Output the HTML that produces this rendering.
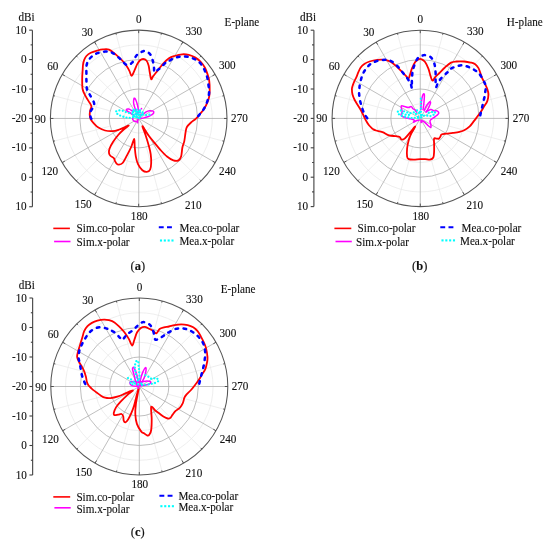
<!DOCTYPE html>
<html><head><meta charset="utf-8"><title>Radiation patterns</title><style>
*{margin:0;padding:0}
html,body{width:550px;height:545px;background:#fff;overflow:hidden}
svg{display:block}
#wrap{width:550px;height:545px}
text{font-family:"Liberation Serif","Times New Roman",serif;font-size:11.7px;fill:#111;stroke:#111;stroke-width:0.12px}
.gm{fill:none;stroke:#e6e6e6;stroke-width:0.7}
.gM{fill:none;stroke:#aeaeae;stroke-width:0.8}
.oc{fill:none;stroke:#555;stroke-width:1.05}
.tk{stroke:#505050;stroke-width:1}
.ax{stroke:#404040;stroke-width:1.1}
.red{fill:none;stroke:#ff0000;stroke-width:1.8;stroke-linejoin:round}
.mag{fill:none;stroke:#ff00ff;stroke-width:1.5;stroke-linejoin:round}
.blue{fill:none;stroke:#0000ff;stroke-width:2.5;stroke-dasharray:2.6 5.4;stroke-linecap:round}
.cy{fill:none;stroke:#00ffff;stroke-width:2.3;stroke-dasharray:0 3.3;stroke-linecap:round}
.lr{stroke:#ff0000;stroke-width:1.6}
.lm{stroke:#ff00ff;stroke-width:1.6}
.lb{stroke:#0000ff;stroke-width:2.1;stroke-dasharray:4.9 3.3}
.lc{fill:#00ffff}
.cap{font-size:12.5px}
</style></head><body>
<div id="wrap"><svg width="550" height="545" viewBox="0 0 550 545">
<g>
<circle cx="138.7" cy="118.45" r="14.72" class="gm"/>
<circle cx="138.7" cy="118.45" r="44.15" class="gm"/>
<circle cx="138.7" cy="118.45" r="73.58" class="gm"/>
<line x1="146.32" y1="90.02" x2="161.55" y2="33.16" class="gm"/>
<line x1="159.51" y1="97.64" x2="201.14" y2="56.01" class="gm"/>
<line x1="167.13" y1="110.83" x2="223.99" y2="95.6" class="gm"/>
<line x1="167.13" y1="126.07" x2="223.99" y2="141.3" class="gm"/>
<line x1="159.51" y1="139.26" x2="201.14" y2="180.89" class="gm"/>
<line x1="146.32" y1="146.88" x2="161.55" y2="203.74" class="gm"/>
<line x1="131.08" y1="146.88" x2="115.85" y2="203.74" class="gm"/>
<line x1="117.89" y1="139.26" x2="76.26" y2="180.89" class="gm"/>
<line x1="110.27" y1="126.07" x2="53.41" y2="141.3" class="gm"/>
<line x1="110.27" y1="110.83" x2="53.41" y2="95.6" class="gm"/>
<line x1="117.89" y1="97.64" x2="76.26" y2="56.01" class="gm"/>
<line x1="131.08" y1="90.02" x2="115.85" y2="33.16" class="gm"/>
<circle cx="138.7" cy="118.45" r="29.43" class="gM"/>
<circle cx="138.7" cy="118.45" r="58.87" class="gM"/>
<line x1="138.7" y1="118.45" x2="138.7" y2="30.15" class="gM"/>
<line x1="138.7" y1="118.45" x2="182.85" y2="41.98" class="gM"/>
<line x1="138.7" y1="118.45" x2="215.17" y2="74.3" class="gM"/>
<line x1="138.7" y1="118.45" x2="227" y2="118.45" class="gM"/>
<line x1="138.7" y1="118.45" x2="215.17" y2="162.6" class="gM"/>
<line x1="138.7" y1="118.45" x2="182.85" y2="194.92" class="gM"/>
<line x1="138.7" y1="118.45" x2="138.7" y2="206.75" class="gM"/>
<line x1="138.7" y1="118.45" x2="94.55" y2="194.92" class="gM"/>
<line x1="138.7" y1="118.45" x2="62.23" y2="162.6" class="gM"/>
<line x1="138.7" y1="118.45" x2="50.4" y2="118.45" class="gM"/>
<line x1="138.7" y1="118.45" x2="62.23" y2="74.3" class="gM"/>
<line x1="138.7" y1="118.45" x2="94.55" y2="41.98" class="gM"/>
<circle cx="138.7" cy="118.45" r="88.3" class="oc"/>
<line x1="138.7" y1="30.15" x2="138.7" y2="33.15" class="tk"/>
<line x1="161.55" y1="33.16" x2="161.14" y2="34.7" class="tk"/>
<line x1="182.85" y1="41.98" x2="181.35" y2="44.58" class="tk"/>
<line x1="201.14" y1="56.01" x2="200.01" y2="57.14" class="tk"/>
<line x1="215.17" y1="74.3" x2="212.57" y2="75.8" class="tk"/>
<line x1="223.99" y1="95.6" x2="222.45" y2="96.01" class="tk"/>
<line x1="227" y1="118.45" x2="224" y2="118.45" class="tk"/>
<line x1="223.99" y1="141.3" x2="222.45" y2="140.89" class="tk"/>
<line x1="215.17" y1="162.6" x2="212.57" y2="161.1" class="tk"/>
<line x1="201.14" y1="180.89" x2="200.01" y2="179.76" class="tk"/>
<line x1="182.85" y1="194.92" x2="181.35" y2="192.32" class="tk"/>
<line x1="161.55" y1="203.74" x2="161.14" y2="202.2" class="tk"/>
<line x1="138.7" y1="206.75" x2="138.7" y2="203.75" class="tk"/>
<line x1="115.85" y1="203.74" x2="116.26" y2="202.2" class="tk"/>
<line x1="94.55" y1="194.92" x2="96.05" y2="192.32" class="tk"/>
<line x1="76.26" y1="180.89" x2="77.39" y2="179.76" class="tk"/>
<line x1="62.23" y1="162.6" x2="64.83" y2="161.1" class="tk"/>
<line x1="53.41" y1="141.3" x2="54.95" y2="140.89" class="tk"/>
<line x1="50.4" y1="118.45" x2="53.4" y2="118.45" class="tk"/>
<line x1="53.41" y1="95.6" x2="54.95" y2="96.01" class="tk"/>
<line x1="62.23" y1="74.3" x2="64.83" y2="75.8" class="tk"/>
<line x1="76.26" y1="56.01" x2="77.39" y2="57.14" class="tk"/>
<line x1="94.55" y1="41.98" x2="96.05" y2="44.58" class="tk"/>
<line x1="115.85" y1="33.16" x2="116.26" y2="34.7" class="tk"/>
<line x1="32.4" y1="30.15" x2="32.4" y2="206.75" class="ax"/>
<line x1="29.2" y1="30.15" x2="32.4" y2="30.15" class="ax"/>
<text x="26.6" y="33.75" text-anchor="end" textLength="11.15" lengthAdjust="spacingAndGlyphs">10</text>
<line x1="30.6" y1="44.87" x2="32.4" y2="44.87" class="ax"/>
<line x1="29.2" y1="59.58" x2="32.4" y2="59.58" class="ax"/>
<text x="26.6" y="63.18" text-anchor="end" textLength="5.58" lengthAdjust="spacingAndGlyphs">0</text>
<line x1="30.6" y1="74.3" x2="32.4" y2="74.3" class="ax"/>
<line x1="29.2" y1="89.02" x2="32.4" y2="89.02" class="ax"/>
<text x="26.6" y="92.62" text-anchor="end" textLength="14.86" lengthAdjust="spacingAndGlyphs">-10</text>
<line x1="30.6" y1="103.73" x2="32.4" y2="103.73" class="ax"/>
<line x1="29.2" y1="118.45" x2="32.4" y2="118.45" class="ax"/>
<text x="26.6" y="122.05" text-anchor="end" textLength="14.86" lengthAdjust="spacingAndGlyphs">-20</text>
<line x1="30.6" y1="133.17" x2="32.4" y2="133.17" class="ax"/>
<line x1="29.2" y1="147.88" x2="32.4" y2="147.88" class="ax"/>
<text x="26.6" y="151.48" text-anchor="end" textLength="14.86" lengthAdjust="spacingAndGlyphs">-10</text>
<line x1="30.6" y1="162.6" x2="32.4" y2="162.6" class="ax"/>
<line x1="29.2" y1="177.32" x2="32.4" y2="177.32" class="ax"/>
<text x="26.6" y="180.92" text-anchor="end" textLength="5.58" lengthAdjust="spacingAndGlyphs">0</text>
<line x1="30.6" y1="192.03" x2="32.4" y2="192.03" class="ax"/>
<line x1="29.2" y1="206.75" x2="32.4" y2="206.75" class="ax"/>
<text x="26.6" y="210.35" text-anchor="end" textLength="11.15" lengthAdjust="spacingAndGlyphs">10</text>
<text x="26.5" y="21.35" text-anchor="middle" textLength="16.11" lengthAdjust="spacingAndGlyphs">dBi</text>
<text x="138.85" y="23.2" text-anchor="middle" textLength="5.58" lengthAdjust="spacingAndGlyphs">0</text>
<text x="92.8" y="35.7" text-anchor="end" textLength="11.15" lengthAdjust="spacingAndGlyphs">30</text>
<text x="58.3" y="69.6" text-anchor="end" textLength="11.15" lengthAdjust="spacingAndGlyphs">60</text>
<text x="45.9" y="122.5" text-anchor="end" textLength="11.15" lengthAdjust="spacingAndGlyphs">90</text>
<text x="58.2" y="174.8" text-anchor="end" textLength="16.73" lengthAdjust="spacingAndGlyphs">120</text>
<text x="91.6" y="208.2" text-anchor="end" textLength="16.73" lengthAdjust="spacingAndGlyphs">150</text>
<text x="139.2" y="220.4" text-anchor="middle" textLength="16.73" lengthAdjust="spacingAndGlyphs">180</text>
<text x="184.9" y="208.7" text-anchor="start" textLength="16.73" lengthAdjust="spacingAndGlyphs">210</text>
<text x="219.1" y="174.9" text-anchor="start" textLength="16.73" lengthAdjust="spacingAndGlyphs">240</text>
<text x="231.1" y="122.2" text-anchor="start" textLength="16.73" lengthAdjust="spacingAndGlyphs">270</text>
<text x="218.9" y="69.2" text-anchor="start" textLength="16.73" lengthAdjust="spacingAndGlyphs">300</text>
<text x="185.4" y="35.3" text-anchor="start" textLength="16.73" lengthAdjust="spacingAndGlyphs">330</text>
<path d="M90.3,118.7 C90.2,117.97 89.7,115.77 89.7,114.3 C89.7,112.83 90.02,111.27 90.3,109.9 C90.58,108.53 91.68,107.57 91.4,106.1 C91.12,104.63 89.62,102.85 88.6,101.1 C87.58,99.35 86.3,97.62 85.3,95.6 C84.3,93.58 83.12,91.85 82.6,89 C82.08,86.15 82.2,81.53 82.2,78.5 C82.2,75.47 82.45,73.18 82.6,70.8 C82.75,68.42 82.83,66.03 83.1,64.2 C83.37,62.37 83.65,61.17 84.2,59.8 C84.75,58.43 85.3,57.18 86.4,56 C87.5,54.82 88.97,53.62 90.8,52.7 C92.63,51.78 95.38,51.05 97.4,50.5 C99.42,49.95 100.97,49.55 102.9,49.4 C104.83,49.25 106.88,48.77 109,49.6 C111.12,50.43 113.4,52.58 115.6,54.4 C117.8,56.22 120.37,58.57 122.2,60.5 C124.03,62.43 125.4,64.27 126.6,66 C127.8,67.73 128.57,69.25 129.4,70.9 C130.23,72.55 130.78,75.9 131.6,75.9 C132.42,75.9 133.38,72.83 134.3,70.9 C135.22,68.97 136.18,66.03 137.1,64.3 C138.02,62.57 138.8,61.38 139.8,60.5 C140.8,59.62 142,59 143.1,59 C144.2,59 145.48,59.43 146.4,60.5 C147.32,61.57 148.05,63.48 148.6,65.4 C149.15,67.32 149.27,69.7 149.7,72 C150.13,74.3 150.65,78.47 151.2,79.2 C151.75,79.93 151.97,77.78 153,76.4 C154.03,75.02 155.73,73 157.4,70.9 C159.07,68.8 161.07,65.9 163,63.8 C164.93,61.7 167.08,59.6 169,58.3 C170.92,57 172.3,56.67 174.5,56 C176.7,55.33 179.82,54.48 182.2,54.3 C184.58,54.12 186.6,54.35 188.8,54.9 C191,55.45 193.38,56.42 195.4,57.6 C197.42,58.78 199.33,60.35 200.9,62 C202.47,63.65 203.7,65.48 204.8,67.5 C205.9,69.52 206.77,71.9 207.5,74.1 C208.23,76.3 208.83,78.05 209.2,80.7 C209.57,83.35 209.7,87.35 209.7,90 C209.7,92.65 209.57,94.58 209.2,96.6 C208.83,98.62 208.33,100.08 207.5,102.1 C206.67,104.12 205.48,106.68 204.2,108.7 C202.92,110.72 201.17,112.55 199.8,114.2 C198.43,115.85 197.47,117.22 196,118.6 C194.53,119.98 192.52,121.1 191,122.5 C189.48,123.9 187.8,125.4 186.9,127 C186,128.6 186.03,129.75 185.6,132.1 C185.17,134.45 184.83,138.53 184.3,141.1 C183.77,143.67 182.93,144.93 182.4,147.5 C181.87,150.07 181.75,154.35 181.1,156.5 C180.45,158.65 179.78,159.75 178.5,160.4 C177.22,161.05 175.32,161.05 173.4,160.4 C171.48,159.75 169.13,158.22 167,156.5 C164.87,154.78 162.75,152.45 160.6,150.1 C158.45,147.75 156.03,144.75 154.1,142.4 C152.17,140.05 150.4,137.88 149,136 C147.6,134.12 146.8,132.73 145.7,131.1 C144.6,129.47 142.4,125.47 142.4,126.2 C142.4,126.93 144.6,132.12 145.7,135.5 C146.8,138.88 148.17,143.38 149,146.5 C149.83,149.62 150.33,151.45 150.7,154.2 C151.07,156.95 151.3,160.43 151.2,163 C151.1,165.57 150.83,168.13 150.1,169.6 C149.37,171.07 148.08,171.7 146.8,171.8 C145.52,171.9 143.87,171.48 142.4,170.2 C140.93,168.92 139.1,166.4 138,164.1 C136.9,161.8 136.35,159.33 135.8,156.4 C135.25,153.47 134.97,149.43 134.7,146.5 C134.43,143.57 134.75,138.8 134.2,138.8 C133.65,138.8 132.6,143.75 131.4,146.5 C130.2,149.25 128.47,152.55 127,155.3 C125.53,158.05 123.97,161.43 122.6,163 C121.23,164.57 119.8,164.6 118.8,164.7 C117.8,164.8 117.25,164.25 116.6,163.6 C115.95,162.95 115.37,161.72 114.9,160.8 C114.43,159.88 114.52,158.9 113.8,158.1 C113.08,157.3 111.4,156.83 110.6,156 C109.8,155.17 109.18,154.32 109,153.1 C108.82,151.88 108.83,150.53 109.5,148.7 C110.17,146.87 111.55,144.38 113,142.1 C114.45,139.82 116.42,137.1 118.2,135 C119.98,132.9 121.95,131.07 123.7,129.5 C125.45,127.93 128.52,125.97 128.7,125.6 C128.88,125.23 126.37,126.65 124.8,127.3 C123.23,127.95 121.32,128.87 119.3,129.5 C117.28,130.13 115.08,130.93 112.7,131.1 C110.32,131.27 107.38,131.08 105,130.5 C102.62,129.92 100.23,128.75 98.4,127.6 C96.57,126.45 95.03,124.62 94,123.6 C92.97,122.58 92.82,122.32 92.2,121.5 C91.58,120.68 90.62,119.17 90.3,118.7" class="red"/>
<path d="M135.9,111.1 C135.72,110.52 135.18,108.95 134.8,107.6 C134.42,106.25 133.75,104.45 133.6,103 C133.45,101.55 133.73,99.7 133.9,98.9 C134.07,98.1 134.32,98.1 134.6,98.2 C134.88,98.3 135.18,98.6 135.6,99.5 C136.02,100.4 136.7,102.25 137.1,103.6 C137.5,104.95 137.8,106.35 138,107.6 C138.2,108.85 138.38,110.12 138.3,111.1 C138.22,112.08 137.63,113.1 137.5,113.5" class="mag"/>
<path d="M133.9,112.3 C133.52,112 132.47,111.03 131.6,110.5 C130.73,109.97 129.58,109.23 128.7,109.1 C127.82,108.97 126.5,109.37 126.3,109.7 C126.1,110.03 126.82,110.57 127.5,111.1 C128.18,111.63 129.53,112.32 130.4,112.9 C131.27,113.48 132.02,114.28 132.7,114.6 C133.38,114.92 134.2,114.77 134.5,114.8" class="mag"/>
<path d="M139.5,115.2 C140.12,115.03 142.1,114.77 143.2,114.2 C144.3,113.63 145.03,112.38 146.1,111.8 C147.17,111.22 148.43,110.8 149.6,110.7 C150.77,110.6 152.42,110.82 153.1,111.2 C153.78,111.58 153.9,112.42 153.7,113 C153.5,113.58 152.78,114.12 151.9,114.7 C151.02,115.28 149.57,116.02 148.4,116.5 C147.23,116.98 145.97,117.32 144.9,117.6 C143.83,117.88 142.9,118.13 142,118.2 C141.1,118.27 139.92,118.03 139.5,118" class="mag"/>
<path d="M134.5,116 C134.2,116.35 132.9,117.37 132.7,118.1 C132.5,118.83 132.9,119.82 133.3,120.4 C133.7,120.98 134.42,121.5 135.1,121.6 C135.78,121.7 136.92,121.38 137.4,121 C137.88,120.62 137.72,119.78 138,119.3 C138.28,118.82 138.92,118.3 139.1,118.1" class="mag"/>
<path d="M137.4,120.5 L137.7,123.3" class="mag"/>
<path d="M141.3,107.8 L141.6,109.5" class="mag"/>
<path d="M136,114 C136.42,113.72 137.67,112.47 138.5,112.3 C139.33,112.13 140.58,112.88 141,113" class="mag"/>
<path d="M91.4,118.7 C91.27,118.43 90.78,118.2 90.6,117.1 C90.42,116 89.98,113.57 90.3,112.1 C90.62,110.63 91.87,109.77 92.5,108.3 C93.13,106.83 94.57,105.6 94.1,103.3 C93.63,101 90.88,96.78 89.7,94.5 C88.52,92.22 87.55,92.08 87,89.6 C86.45,87.12 86.5,82.37 86.4,79.6 C86.3,76.83 86.4,75.2 86.4,73 C86.4,70.8 86.12,68.42 86.4,66.4 C86.68,64.38 87.18,62.55 88.1,60.9 C89.02,59.25 90.35,57.78 91.9,56.5 C93.45,55.22 95.2,54.02 97.4,53.2 C99.6,52.38 102.62,51.67 105.1,51.6 C107.58,51.53 109.82,51.6 112.3,52.8 C114.78,54 117.62,56.78 120,58.8 C122.38,60.82 124.58,64.25 126.6,64.9 C128.62,65.55 130.45,64.27 132.1,62.7 C133.75,61.13 134.85,57.33 136.5,55.5 C138.15,53.67 140.53,52.43 142,51.7 C143.47,50.97 143.92,50.65 145.3,51.1 C146.68,51.55 149.02,52.65 150.3,54.4 C151.58,56.15 152.37,59.22 153,61.6 C153.63,63.98 153.92,66.97 154.1,68.7 C154.28,70.43 153.45,71.82 154.1,72 C154.75,72.18 156.72,70.72 158,69.8 C159.28,68.88 160.43,67.78 161.8,66.5 C163.17,65.22 165,63.03 166.2,62.1 C167.4,61.17 167.43,61.65 169,60.9 C170.57,60.15 173.22,58.33 175.6,57.6 C177.98,56.87 180.73,56.5 183.3,56.5 C185.87,56.5 188.62,56.87 191,57.6 C193.38,58.33 195.77,59.62 197.6,60.9 C199.43,62.18 200.72,63.47 202,65.3 C203.28,67.13 204.38,69.7 205.3,71.9 C206.22,74.1 206.95,76.12 207.5,78.5 C208.05,80.88 208.32,84.2 208.6,86.2 C208.88,88.2 209.2,88.77 209.2,90.5 C209.2,92.23 208.97,94.67 208.6,96.6 C208.23,98.53 207.77,100.08 207,102.1 C206.23,104.12 205.2,106.68 204,108.7 C202.8,110.72 201.13,112.55 199.8,114.2 C198.47,115.85 196.63,117.87 196,118.6" class="blue"/>
<path d="M133,117.2 C132.33,117.32 130.25,117.88 129,117.9 C127.75,117.92 126.67,117.57 125.5,117.3 C124.33,117.03 123.25,116.77 122,116.3 C120.75,115.83 119.02,115.25 118,114.5 C116.98,113.75 115.82,112.47 115.9,111.8 C115.98,111.13 117.35,110.67 118.5,110.5 C119.65,110.33 121.55,110.52 122.8,110.8 C124.05,111.08 124.88,111.8 126,112.2 C127.12,112.6 128.42,112.98 129.5,113.2 C130.58,113.42 132,113.45 132.5,113.5" class="cy"/>
<path d="M133.5,110 C133.92,109.92 135.08,109.5 136,109.5 C136.92,109.5 138.08,109.75 139,110 C139.92,110.25 140.83,110.5 141.5,111 C142.17,111.5 142.75,112.67 143,113" class="cy"/>
<path d="M133,112 C133.33,112.33 134.25,113.5 135,114 C135.75,114.5 136.67,115 137.5,115 C138.33,115 139.17,113.92 140,114 C140.83,114.08 142.08,115.25 142.5,115.5" class="cy"/>
<path d="M134,116.5 C134.42,116.67 135.67,117.5 136.5,117.5 C137.33,117.5 138.25,116.5 139,116.5 C139.75,116.5 140.67,117.33 141,117.5" class="cy"/>
<path d="M143,114.3 C143.52,114.45 145,115.15 146.1,115.2 C147.2,115.25 148.75,114.88 149.6,114.6 C150.45,114.32 150.93,113.68 151.2,113.5" class="cy"/>
<path d="M136,111.5 C136.08,112 136.58,113.5 136.5,114.5 C136.42,115.5 135.67,117 135.5,117.5" class="cy"/>
<path d="M139,111.5 L139,118.5" class="cy"/>
<path d="M133.5,115.5 C133.75,115.75 134.42,116.83 135,117 C135.58,117.17 136.5,117.17 137,116.5 C137.5,115.83 137.42,113.67 138,113 C138.58,112.33 139.83,111.92 140.5,112.5 C141.17,113.08 141.75,115.83 142,116.5" class="cy"/>
<path d="M134,110.5 C134.58,110.75 136.5,112 137.5,112 C138.5,112 139.58,110.75 140,110.5" class="cy"/>
</g>
<g>
<circle cx="420.25" cy="118.4" r="14.7" class="gm"/>
<circle cx="420.25" cy="118.4" r="44.1" class="gm"/>
<circle cx="420.25" cy="118.4" r="73.5" class="gm"/>
<line x1="427.86" y1="90" x2="443.08" y2="33.21" class="gm"/>
<line x1="441.04" y1="97.61" x2="482.62" y2="56.03" class="gm"/>
<line x1="448.65" y1="110.79" x2="505.44" y2="95.57" class="gm"/>
<line x1="448.65" y1="126.01" x2="505.44" y2="141.23" class="gm"/>
<line x1="441.04" y1="139.19" x2="482.62" y2="180.77" class="gm"/>
<line x1="427.86" y1="146.8" x2="443.08" y2="203.59" class="gm"/>
<line x1="412.64" y1="146.8" x2="397.42" y2="203.59" class="gm"/>
<line x1="399.46" y1="139.19" x2="357.88" y2="180.77" class="gm"/>
<line x1="391.85" y1="126.01" x2="335.06" y2="141.23" class="gm"/>
<line x1="391.85" y1="110.79" x2="335.06" y2="95.57" class="gm"/>
<line x1="399.46" y1="97.61" x2="357.88" y2="56.03" class="gm"/>
<line x1="412.64" y1="90" x2="397.42" y2="33.21" class="gm"/>
<circle cx="420.25" cy="118.4" r="29.4" class="gM"/>
<circle cx="420.25" cy="118.4" r="58.8" class="gM"/>
<line x1="420.25" y1="118.4" x2="420.25" y2="30.2" class="gM"/>
<line x1="420.25" y1="118.4" x2="464.35" y2="42.02" class="gM"/>
<line x1="420.25" y1="118.4" x2="496.63" y2="74.3" class="gM"/>
<line x1="420.25" y1="118.4" x2="508.45" y2="118.4" class="gM"/>
<line x1="420.25" y1="118.4" x2="496.63" y2="162.5" class="gM"/>
<line x1="420.25" y1="118.4" x2="464.35" y2="194.78" class="gM"/>
<line x1="420.25" y1="118.4" x2="420.25" y2="206.6" class="gM"/>
<line x1="420.25" y1="118.4" x2="376.15" y2="194.78" class="gM"/>
<line x1="420.25" y1="118.4" x2="343.87" y2="162.5" class="gM"/>
<line x1="420.25" y1="118.4" x2="332.05" y2="118.4" class="gM"/>
<line x1="420.25" y1="118.4" x2="343.87" y2="74.3" class="gM"/>
<line x1="420.25" y1="118.4" x2="376.15" y2="42.02" class="gM"/>
<circle cx="420.25" cy="118.4" r="88.2" class="oc"/>
<line x1="420.25" y1="30.2" x2="420.25" y2="33.2" class="tk"/>
<line x1="443.08" y1="33.21" x2="442.66" y2="34.75" class="tk"/>
<line x1="464.35" y1="42.02" x2="462.85" y2="44.61" class="tk"/>
<line x1="482.62" y1="56.03" x2="481.49" y2="57.16" class="tk"/>
<line x1="496.63" y1="74.3" x2="494.04" y2="75.8" class="tk"/>
<line x1="505.44" y1="95.57" x2="503.9" y2="95.99" class="tk"/>
<line x1="508.45" y1="118.4" x2="505.45" y2="118.4" class="tk"/>
<line x1="505.44" y1="141.23" x2="503.9" y2="140.81" class="tk"/>
<line x1="496.63" y1="162.5" x2="494.04" y2="161" class="tk"/>
<line x1="482.62" y1="180.77" x2="481.49" y2="179.64" class="tk"/>
<line x1="464.35" y1="194.78" x2="462.85" y2="192.19" class="tk"/>
<line x1="443.08" y1="203.59" x2="442.66" y2="202.05" class="tk"/>
<line x1="420.25" y1="206.6" x2="420.25" y2="203.6" class="tk"/>
<line x1="397.42" y1="203.59" x2="397.84" y2="202.05" class="tk"/>
<line x1="376.15" y1="194.78" x2="377.65" y2="192.19" class="tk"/>
<line x1="357.88" y1="180.77" x2="359.01" y2="179.64" class="tk"/>
<line x1="343.87" y1="162.5" x2="346.46" y2="161" class="tk"/>
<line x1="335.06" y1="141.23" x2="336.6" y2="140.81" class="tk"/>
<line x1="332.05" y1="118.4" x2="335.05" y2="118.4" class="tk"/>
<line x1="335.06" y1="95.57" x2="336.6" y2="95.99" class="tk"/>
<line x1="343.87" y1="74.3" x2="346.46" y2="75.8" class="tk"/>
<line x1="357.88" y1="56.03" x2="359.01" y2="57.16" class="tk"/>
<line x1="376.15" y1="42.02" x2="377.65" y2="44.61" class="tk"/>
<line x1="397.42" y1="33.21" x2="397.84" y2="34.75" class="tk"/>
<line x1="313.9" y1="30.2" x2="313.9" y2="206.6" class="ax"/>
<line x1="310.7" y1="30.2" x2="313.9" y2="30.2" class="ax"/>
<text x="308.1" y="33.8" text-anchor="end" textLength="11.15" lengthAdjust="spacingAndGlyphs">10</text>
<line x1="312.1" y1="44.9" x2="313.9" y2="44.9" class="ax"/>
<line x1="310.7" y1="59.6" x2="313.9" y2="59.6" class="ax"/>
<text x="308.1" y="63.2" text-anchor="end" textLength="5.58" lengthAdjust="spacingAndGlyphs">0</text>
<line x1="312.1" y1="74.3" x2="313.9" y2="74.3" class="ax"/>
<line x1="310.7" y1="89" x2="313.9" y2="89" class="ax"/>
<text x="308.1" y="92.6" text-anchor="end" textLength="14.86" lengthAdjust="spacingAndGlyphs">-10</text>
<line x1="312.1" y1="103.7" x2="313.9" y2="103.7" class="ax"/>
<line x1="310.7" y1="118.4" x2="313.9" y2="118.4" class="ax"/>
<text x="308.1" y="122" text-anchor="end" textLength="14.86" lengthAdjust="spacingAndGlyphs">-20</text>
<line x1="312.1" y1="133.1" x2="313.9" y2="133.1" class="ax"/>
<line x1="310.7" y1="147.8" x2="313.9" y2="147.8" class="ax"/>
<text x="308.1" y="151.4" text-anchor="end" textLength="14.86" lengthAdjust="spacingAndGlyphs">-10</text>
<line x1="312.1" y1="162.5" x2="313.9" y2="162.5" class="ax"/>
<line x1="310.7" y1="177.2" x2="313.9" y2="177.2" class="ax"/>
<text x="308.1" y="180.8" text-anchor="end" textLength="5.58" lengthAdjust="spacingAndGlyphs">0</text>
<line x1="312.1" y1="191.9" x2="313.9" y2="191.9" class="ax"/>
<line x1="310.7" y1="206.6" x2="313.9" y2="206.6" class="ax"/>
<text x="308.1" y="210.2" text-anchor="end" textLength="11.15" lengthAdjust="spacingAndGlyphs">10</text>
<text x="308" y="21.4" text-anchor="middle" textLength="16.11" lengthAdjust="spacingAndGlyphs">dBi</text>
<text x="420.4" y="23.15" text-anchor="middle" textLength="5.58" lengthAdjust="spacingAndGlyphs">0</text>
<text x="374.35" y="35.65" text-anchor="end" textLength="11.15" lengthAdjust="spacingAndGlyphs">30</text>
<text x="339.85" y="69.55" text-anchor="end" textLength="11.15" lengthAdjust="spacingAndGlyphs">60</text>
<text x="327.45" y="122.45" text-anchor="end" textLength="11.15" lengthAdjust="spacingAndGlyphs">90</text>
<text x="339.75" y="174.75" text-anchor="end" textLength="16.73" lengthAdjust="spacingAndGlyphs">120</text>
<text x="373.15" y="208.15" text-anchor="end" textLength="16.73" lengthAdjust="spacingAndGlyphs">150</text>
<text x="420.75" y="220.35" text-anchor="middle" textLength="16.73" lengthAdjust="spacingAndGlyphs">180</text>
<text x="466.45" y="208.65" text-anchor="start" textLength="16.73" lengthAdjust="spacingAndGlyphs">210</text>
<text x="500.65" y="174.85" text-anchor="start" textLength="16.73" lengthAdjust="spacingAndGlyphs">240</text>
<text x="512.65" y="122.15" text-anchor="start" textLength="16.73" lengthAdjust="spacingAndGlyphs">270</text>
<text x="500.45" y="69.15" text-anchor="start" textLength="16.73" lengthAdjust="spacingAndGlyphs">300</text>
<text x="466.95" y="35.25" text-anchor="start" textLength="16.73" lengthAdjust="spacingAndGlyphs">330</text>
<path d="M372.8,129.2 C372.17,128.55 370.1,126.68 369,125.3 C367.9,123.92 367.03,122.37 366.2,120.9 C365.37,119.43 364.82,118.15 364,116.5 C363.18,114.85 362.3,112.83 361.3,111 C360.3,109.17 359.1,107.33 358,105.5 C356.9,103.67 355.62,101.83 354.7,100 C353.78,98.17 352.97,96.33 352.5,94.5 C352.03,92.67 351.9,90.38 351.9,89 C351.9,87.62 352.13,87.4 352.5,86.2 C352.87,85 353.47,83.27 354.1,81.8 C354.73,80.33 355.57,79.05 356.3,77.4 C357.03,75.75 357.77,73.55 358.5,71.9 C359.23,70.25 359.78,68.78 360.7,67.5 C361.62,66.22 362.53,65.2 364,64.2 C365.47,63.2 367.3,62.23 369.5,61.5 C371.7,60.77 374.63,60.08 377.2,59.8 C379.77,59.52 382.6,59.43 384.9,59.8 C387.2,60.17 389.07,60.9 391,62 C392.93,63.1 394.67,64.75 396.5,66.4 C398.33,68.05 400.35,70.25 402,71.9 C403.65,73.55 405.3,75.2 406.4,76.3 C407.5,77.4 407.68,79.78 408.6,78.5 C409.52,77.22 410.8,71.35 411.9,68.6 C413,65.85 414.1,63.55 415.2,62 C416.3,60.45 417.4,59.75 418.5,59.3 C419.6,58.85 420.7,58.85 421.8,59.3 C422.9,59.75 424,60.45 425.1,62 C426.2,63.55 427.48,66.22 428.4,68.6 C429.32,70.98 429.9,74.28 430.6,76.3 C431.3,78.32 431.87,80.52 432.6,80.7 C433.33,80.88 433.87,78.68 435,77.4 C436.13,76.12 437.75,74.65 439.4,73 C441.05,71.35 442.97,69.23 444.9,67.5 C446.83,65.77 449.07,63.6 451,62.6 C452.93,61.6 454.3,61.68 456.5,61.5 C458.7,61.32 461.82,61.32 464.2,61.5 C466.58,61.68 468.97,62.15 470.8,62.6 C472.63,63.05 473.92,63.28 475.2,64.2 C476.48,65.12 477.67,66.72 478.5,68.1 C479.33,69.48 479.65,70.95 480.2,72.5 C480.75,74.05 481.17,75.85 481.8,77.4 C482.43,78.95 483.08,79.87 484,81.8 C484.92,83.73 486.57,86.88 487.3,89 C488.03,91.12 488.4,92.48 488.4,94.5 C488.4,96.52 488.03,99.08 487.3,101.1 C486.57,103.12 485.1,104.77 484,106.6 C482.9,108.43 481.8,110.45 480.7,112.1 C479.6,113.75 478.5,115.03 477.4,116.5 C476.3,117.97 475.38,119.25 474.1,120.9 C472.82,122.55 471.35,124.83 469.7,126.4 C468.05,127.97 465.9,129.4 464.2,130.3 C462.5,131.2 461.38,131.37 459.5,131.8 C457.62,132.23 455.08,132.58 452.9,132.9 C450.72,133.22 448.3,133.43 446.4,133.7 C444.5,133.97 442.47,134.08 441.5,134.5 C440.53,134.92 441.02,135.52 440.6,136.2 C440.18,136.88 439.68,138.2 439,138.6 C438.32,139 437.32,138.6 436.5,138.6 C435.68,138.6 434.5,137.78 434.1,138.6 C433.7,139.42 434.1,141.32 434.1,143.5 C434.1,145.68 434.23,149.37 434.1,151.7 C433.97,154.03 433.98,156.18 433.3,157.5 C432.62,158.82 431.37,159.33 430,159.6 C428.63,159.87 426.73,159.18 425.1,159.1 C423.47,159.02 422.12,159.02 420.2,159.1 C418.28,159.18 415.52,159.6 413.6,159.6 C411.68,159.6 409.78,159.6 408.7,159.1 C407.62,158.6 407.37,158.37 407.1,156.6 C406.83,154.83 406.83,151.22 407.1,148.5 C407.37,145.78 408.02,142.77 408.7,140.3 C409.38,137.83 410.1,136.02 411.2,133.7 C412.3,131.38 415.43,126.67 415.3,126.4 C415.17,126.13 412.18,130.07 410.4,132.1 C408.62,134.13 406.1,137.37 404.6,138.6 C403.1,139.83 402.22,139.77 401.4,139.5 C400.58,139.23 400.67,137.55 399.7,137 C398.73,136.45 397.37,136.47 395.6,136.2 C393.83,135.93 391.28,136.08 389.1,135.4 C386.92,134.72 384.68,132.92 382.5,132.1 C380.32,131.28 377.62,130.98 376,130.5 C374.38,130.02 373.33,129.42 372.8,129.2" class="red"/>
<path d="M420.9,110.1 C420.97,108.93 421.08,105.28 421.3,103.1 C421.52,100.92 421.83,98.53 422.2,97 C422.57,95.47 423.13,94.2 423.5,93.9 C423.87,93.6 424.33,93.67 424.4,95.2 C424.47,96.73 424.13,100.62 423.9,103.1 C423.67,105.58 423.15,108.93 423,110.1" class="mag"/>
<path d="M423.9,111 C424.33,110.12 425.55,107.23 426.5,105.7 C427.45,104.17 428.93,102.23 429.6,101.8 C430.27,101.37 430.72,102.02 430.5,103.1 C430.28,104.18 429.1,106.7 428.3,108.3 C427.5,109.9 426.13,111.97 425.7,112.7" class="mag"/>
<path d="M416.9,112.7 C416.62,112.27 415.85,110.75 415.2,110.1 C414.55,109.45 413.65,109.38 413,108.8 C412.35,108.22 412.1,106.82 411.3,106.6 C410.5,106.38 409.3,107.5 408.2,107.5 C407.1,107.5 405.87,106.83 404.7,106.6 C403.53,106.37 401.63,105.3 401.2,106.1 C400.77,106.9 402.1,109.87 402.1,111.4 C402.1,112.93 400.62,114.22 401.2,115.3 C401.78,116.38 404,117.32 405.6,117.9 C407.2,118.48 409.35,118.43 410.8,118.8 C412.25,119.17 413.85,119.52 414.3,120.1 C414.75,120.68 413.07,122.23 413.5,122.3 C413.93,122.37 415.88,120.87 416.9,120.5 C417.92,120.13 419.15,120.17 419.6,120.1" class="mag"/>
<path d="M425.5,112 C425.82,111.83 426.5,111.4 427.4,111 C428.3,110.6 429.73,109.62 430.9,109.6 C432.07,109.58 433.38,110.68 434.4,110.9 C435.42,111.12 436.27,110.53 437,110.9 C437.73,111.27 438.8,112.37 438.8,113.1 C438.8,113.83 437.88,114.5 437,115.3 C436.12,116.1 434.52,117.17 433.5,117.9 C432.48,118.63 431.48,119.12 430.9,119.7 C430.32,120.28 430,120.53 430,121.4 C430,122.27 430.75,123.88 430.9,124.9 C431.05,125.92 431.33,127.35 430.9,127.5 C430.47,127.65 429.32,126.67 428.3,125.8 C427.28,124.93 425.97,123.18 424.8,122.3 C423.63,121.42 421.88,120.8 421.3,120.5" class="mag"/>
<path d="M420.9,119.7 L421.3,123.2" class="mag"/>
<path d="M367.3,118.2 C366.85,117.55 365.42,115.87 364.6,114.3 C363.78,112.73 363.13,111 362.4,108.8 C361.67,106.6 360.75,103.67 360.2,101.1 C359.65,98.53 359.23,95.42 359.1,93.4 C358.97,91.38 359.32,90.2 359.4,89 C359.48,87.8 359.38,87.58 359.6,86.2 C359.82,84.82 360.23,82.53 360.7,80.7 C361.17,78.87 361.75,76.85 362.4,75.2 C363.05,73.55 363.6,72.35 364.6,70.8 C365.6,69.25 367.03,67.27 368.4,65.9 C369.77,64.53 370.97,63.52 372.8,62.6 C374.63,61.68 377.2,60.87 379.4,60.4 C381.6,59.93 384.07,59.7 386,59.8 C387.93,59.9 389.07,59.9 391,61 C392.93,62.1 395.58,64.4 397.6,66.4 C399.62,68.4 401.45,70.98 403.1,73 C404.75,75.02 406.22,76.62 407.5,78.5 C408.78,80.38 410.07,82.68 410.8,84.3 C411.53,85.92 411.72,88.83 411.9,88.2 C412.08,87.57 411.8,83.2 411.9,80.5 C412,77.8 412.22,74.17 412.5,72 C412.78,69.83 412.78,69.72 413.6,67.5 C414.42,65.28 415.85,60.72 417.4,58.7 C418.95,56.68 421.43,55.95 422.9,55.4 C424.37,54.85 424.82,55.03 426.2,55.4 C427.58,55.77 429.82,56.13 431.2,57.6 C432.58,59.07 433.77,61.63 434.5,64.2 C435.23,66.77 435.42,70.2 435.6,73 C435.78,75.8 435.52,78.65 435.6,81 C435.68,83.35 435.65,86.92 436.1,87.1 C436.55,87.28 437.2,83.85 438.3,82.1 C439.4,80.35 441.05,78.33 442.7,76.6 C444.35,74.87 446.82,73.03 448.2,71.7 C449.58,70.37 449.62,69.48 451,68.6 C452.38,67.72 454.67,66.95 456.5,66.4 C458.33,65.85 459.98,65.2 462,65.3 C464.02,65.4 466.58,66.27 468.6,67 C470.62,67.73 472.45,68.7 474.1,69.7 C475.75,70.7 477.22,71.72 478.5,73 C479.78,74.28 480.7,75.57 481.8,77.4 C482.9,79.23 484.43,82.23 485.1,84 C485.77,85.77 485.77,86.75 485.8,88 C485.83,89.25 485.42,90.42 485.3,91.5 C485.18,92.58 485.4,92.9 485.1,94.5 C484.8,96.1 484.05,98.72 483.5,101.1 C482.95,103.48 482.35,106.42 481.8,108.8 C481.25,111.18 480.6,113.75 480.2,115.4 C479.8,117.05 479.53,118.15 479.4,118.7" class="blue"/>
<path d="M420.9,98.7 C420.9,99.58 420.9,102.28 420.9,104 C420.9,105.72 420.9,107.12 420.9,109 C420.9,110.88 420.9,114.25 420.9,115.3" class="cy"/>
<path d="M418,117 C417.33,117.17 415.27,117.85 414,118 C412.73,118.15 411.73,118.07 410.4,117.9 C409.07,117.73 407.4,117.32 406,117 C404.6,116.68 402.93,116.28 402,116 C401.07,115.72 401.07,115.72 400.4,115.3 C399.73,114.88 398.45,114.08 398,113.5 C397.55,112.92 397.37,112.3 397.7,111.8 C398.03,111.3 399.12,110.63 400,110.5 C400.88,110.37 401.83,110.7 403,111 C404.17,111.3 405.67,111.93 407,112.3 C408.33,112.67 409.67,113.25 411,113.2 C412.33,113.15 414.33,112.2 415,112" class="cy"/>
<path d="M416,114 C416.5,113.83 418,112.83 419,113 C420,113.17 421,114.75 422,115 C423,115.25 424.5,114.58 425,114.5" class="cy"/>
<path d="M417,110.5 C417.5,110.75 419,111.83 420,112 C421,112.17 422.5,111.58 423,111.5" class="cy"/>
<path d="M418,118 C418.5,117.92 419.87,117.95 421,117.5 C422.13,117.05 423.43,115.52 424.8,115.3 C426.17,115.08 428,116.17 429.2,116.2 C430.4,116.23 430.98,115.93 432,115.5 C433.02,115.07 434.97,114.22 435.3,113.6 C435.63,112.98 434.8,111.98 434,111.8 C433.2,111.62 431.67,112.3 430.5,112.5 C429.33,112.7 427.58,112.92 427,113" class="cy"/>
<path d="M402.5,113.5 C403,113.67 404.42,114.25 405.5,114.5 C406.58,114.75 407.92,114.75 409,115 C410.08,115.25 411.5,115.83 412,116" class="cy"/>
</g>
<g>
<circle cx="139.3" cy="386.5" r="14.75" class="gm"/>
<circle cx="139.3" cy="386.5" r="44.25" class="gm"/>
<circle cx="139.3" cy="386.5" r="73.75" class="gm"/>
<line x1="146.94" y1="358.01" x2="162.21" y2="301.02" class="gm"/>
<line x1="160.16" y1="365.64" x2="201.88" y2="323.92" class="gm"/>
<line x1="167.79" y1="378.86" x2="224.78" y2="363.59" class="gm"/>
<line x1="167.79" y1="394.14" x2="224.78" y2="409.41" class="gm"/>
<line x1="160.16" y1="407.36" x2="201.88" y2="449.08" class="gm"/>
<line x1="146.94" y1="414.99" x2="162.21" y2="471.98" class="gm"/>
<line x1="131.66" y1="414.99" x2="116.39" y2="471.98" class="gm"/>
<line x1="118.44" y1="407.36" x2="76.72" y2="449.08" class="gm"/>
<line x1="110.81" y1="394.14" x2="53.82" y2="409.41" class="gm"/>
<line x1="110.81" y1="378.86" x2="53.82" y2="363.59" class="gm"/>
<line x1="118.44" y1="365.64" x2="76.72" y2="323.92" class="gm"/>
<line x1="131.66" y1="358.01" x2="116.39" y2="301.02" class="gm"/>
<circle cx="139.3" cy="386.5" r="29.5" class="gM"/>
<circle cx="139.3" cy="386.5" r="59" class="gM"/>
<line x1="139.3" y1="386.5" x2="139.3" y2="298" class="gM"/>
<line x1="139.3" y1="386.5" x2="183.55" y2="309.86" class="gM"/>
<line x1="139.3" y1="386.5" x2="215.94" y2="342.25" class="gM"/>
<line x1="139.3" y1="386.5" x2="227.8" y2="386.5" class="gM"/>
<line x1="139.3" y1="386.5" x2="215.94" y2="430.75" class="gM"/>
<line x1="139.3" y1="386.5" x2="183.55" y2="463.14" class="gM"/>
<line x1="139.3" y1="386.5" x2="139.3" y2="475" class="gM"/>
<line x1="139.3" y1="386.5" x2="95.05" y2="463.14" class="gM"/>
<line x1="139.3" y1="386.5" x2="62.66" y2="430.75" class="gM"/>
<line x1="139.3" y1="386.5" x2="50.8" y2="386.5" class="gM"/>
<line x1="139.3" y1="386.5" x2="62.66" y2="342.25" class="gM"/>
<line x1="139.3" y1="386.5" x2="95.05" y2="309.86" class="gM"/>
<circle cx="139.3" cy="386.5" r="88.5" class="oc"/>
<line x1="139.3" y1="298" x2="139.3" y2="301" class="tk"/>
<line x1="162.21" y1="301.02" x2="161.79" y2="302.56" class="tk"/>
<line x1="183.55" y1="309.86" x2="182.05" y2="312.45" class="tk"/>
<line x1="201.88" y1="323.92" x2="200.75" y2="325.05" class="tk"/>
<line x1="215.94" y1="342.25" x2="213.35" y2="343.75" class="tk"/>
<line x1="224.78" y1="363.59" x2="223.24" y2="364.01" class="tk"/>
<line x1="227.8" y1="386.5" x2="224.8" y2="386.5" class="tk"/>
<line x1="224.78" y1="409.41" x2="223.24" y2="408.99" class="tk"/>
<line x1="215.94" y1="430.75" x2="213.35" y2="429.25" class="tk"/>
<line x1="201.88" y1="449.08" x2="200.75" y2="447.95" class="tk"/>
<line x1="183.55" y1="463.14" x2="182.05" y2="460.55" class="tk"/>
<line x1="162.21" y1="471.98" x2="161.79" y2="470.44" class="tk"/>
<line x1="139.3" y1="475" x2="139.3" y2="472" class="tk"/>
<line x1="116.39" y1="471.98" x2="116.81" y2="470.44" class="tk"/>
<line x1="95.05" y1="463.14" x2="96.55" y2="460.55" class="tk"/>
<line x1="76.72" y1="449.08" x2="77.85" y2="447.95" class="tk"/>
<line x1="62.66" y1="430.75" x2="65.25" y2="429.25" class="tk"/>
<line x1="53.82" y1="409.41" x2="55.36" y2="408.99" class="tk"/>
<line x1="50.8" y1="386.5" x2="53.8" y2="386.5" class="tk"/>
<line x1="53.82" y1="363.59" x2="55.36" y2="364.01" class="tk"/>
<line x1="62.66" y1="342.25" x2="65.25" y2="343.75" class="tk"/>
<line x1="76.72" y1="323.92" x2="77.85" y2="325.05" class="tk"/>
<line x1="95.05" y1="309.86" x2="96.55" y2="312.45" class="tk"/>
<line x1="116.39" y1="301.02" x2="116.81" y2="302.56" class="tk"/>
<line x1="32.65" y1="298" x2="32.65" y2="475" class="ax"/>
<line x1="29.45" y1="298" x2="32.65" y2="298" class="ax"/>
<text x="26.85" y="301.6" text-anchor="end" textLength="11.15" lengthAdjust="spacingAndGlyphs">10</text>
<line x1="30.85" y1="312.75" x2="32.65" y2="312.75" class="ax"/>
<line x1="29.45" y1="327.5" x2="32.65" y2="327.5" class="ax"/>
<text x="26.85" y="331.1" text-anchor="end" textLength="5.58" lengthAdjust="spacingAndGlyphs">0</text>
<line x1="30.85" y1="342.25" x2="32.65" y2="342.25" class="ax"/>
<line x1="29.45" y1="357" x2="32.65" y2="357" class="ax"/>
<text x="26.85" y="360.6" text-anchor="end" textLength="14.86" lengthAdjust="spacingAndGlyphs">-10</text>
<line x1="30.85" y1="371.75" x2="32.65" y2="371.75" class="ax"/>
<line x1="29.45" y1="386.5" x2="32.65" y2="386.5" class="ax"/>
<text x="26.85" y="390.1" text-anchor="end" textLength="14.86" lengthAdjust="spacingAndGlyphs">-20</text>
<line x1="30.85" y1="401.25" x2="32.65" y2="401.25" class="ax"/>
<line x1="29.45" y1="416" x2="32.65" y2="416" class="ax"/>
<text x="26.85" y="419.6" text-anchor="end" textLength="14.86" lengthAdjust="spacingAndGlyphs">-10</text>
<line x1="30.85" y1="430.75" x2="32.65" y2="430.75" class="ax"/>
<line x1="29.45" y1="445.5" x2="32.65" y2="445.5" class="ax"/>
<text x="26.85" y="449.1" text-anchor="end" textLength="5.58" lengthAdjust="spacingAndGlyphs">0</text>
<line x1="30.85" y1="460.25" x2="32.65" y2="460.25" class="ax"/>
<line x1="29.45" y1="475" x2="32.65" y2="475" class="ax"/>
<text x="26.85" y="478.6" text-anchor="end" textLength="11.15" lengthAdjust="spacingAndGlyphs">10</text>
<text x="26.75" y="289.2" text-anchor="middle" textLength="16.11" lengthAdjust="spacingAndGlyphs">dBi</text>
<text x="139.45" y="291.25" text-anchor="middle" textLength="5.58" lengthAdjust="spacingAndGlyphs">0</text>
<text x="93.4" y="303.75" text-anchor="end" textLength="11.15" lengthAdjust="spacingAndGlyphs">30</text>
<text x="58.9" y="337.65" text-anchor="end" textLength="11.15" lengthAdjust="spacingAndGlyphs">60</text>
<text x="46.5" y="390.55" text-anchor="end" textLength="11.15" lengthAdjust="spacingAndGlyphs">90</text>
<text x="58.8" y="442.85" text-anchor="end" textLength="16.73" lengthAdjust="spacingAndGlyphs">120</text>
<text x="92.2" y="476.25" text-anchor="end" textLength="16.73" lengthAdjust="spacingAndGlyphs">150</text>
<text x="139.8" y="488.45" text-anchor="middle" textLength="16.73" lengthAdjust="spacingAndGlyphs">180</text>
<text x="185.5" y="476.75" text-anchor="start" textLength="16.73" lengthAdjust="spacingAndGlyphs">210</text>
<text x="219.7" y="442.95" text-anchor="start" textLength="16.73" lengthAdjust="spacingAndGlyphs">240</text>
<text x="231.7" y="390.25" text-anchor="start" textLength="16.73" lengthAdjust="spacingAndGlyphs">270</text>
<text x="219.5" y="337.25" text-anchor="start" textLength="16.73" lengthAdjust="spacingAndGlyphs">300</text>
<text x="186" y="303.35" text-anchor="start" textLength="16.73" lengthAdjust="spacingAndGlyphs">330</text>
<path d="M88.6,385.6 C88.33,385.05 87.45,383.77 87,382.3 C86.55,380.83 86.37,378.63 85.9,376.8 C85.43,374.97 84.85,372.95 84.2,371.3 C83.55,369.65 82.82,368.37 82,366.9 C81.18,365.43 80.12,364.15 79.3,362.5 C78.48,360.85 77.28,358.92 77.1,357 C76.92,355.08 77.57,353.48 78.2,351 C78.83,348.52 80.17,344.5 80.9,342.1 C81.63,339.7 82.05,338.43 82.6,336.6 C83.15,334.77 83.38,332.83 84.2,331.1 C85.02,329.37 86.22,327.57 87.5,326.2 C88.78,324.83 90.25,323.82 91.9,322.9 C93.55,321.98 95.38,321.25 97.4,320.7 C99.42,320.15 102.07,319.68 104,319.6 C105.93,319.52 107.25,319.73 109,320.2 C110.75,320.67 112.67,321.2 114.5,322.4 C116.33,323.6 118.35,325.75 120,327.4 C121.65,329.05 122.93,330.38 124.4,332.3 C125.87,334.22 127.52,336.7 128.8,338.9 C130.08,341.1 131.18,345.32 132.1,345.5 C133.02,345.68 133.47,342.2 134.3,340 C135.13,337.8 136,334.32 137.1,332.3 C138.2,330.28 139.62,328.82 140.9,327.9 C142.18,326.98 143.52,326.7 144.8,326.8 C146.08,326.9 147.23,327.85 148.6,328.5 C149.97,329.15 151.72,329.88 153,330.7 C154.28,331.52 155.2,333.68 156.3,333.4 C157.4,333.12 158.32,330 159.6,329 C160.88,328 162.43,327.82 164,327.4 C165.57,326.98 167.25,326.88 169,326.5 C170.75,326.12 172.48,325.47 174.5,325.1 C176.52,324.73 178.9,324.3 181.1,324.3 C183.3,324.3 185.68,324.6 187.7,325.1 C189.72,325.6 191.55,326.3 193.2,327.3 C194.85,328.3 196.32,329.55 197.6,331.1 C198.88,332.65 199.88,334.77 200.9,336.6 C201.92,338.43 202.87,340.27 203.7,342.1 C204.53,343.93 205.27,345.12 205.9,347.6 C206.53,350.08 207.32,354.52 207.5,357 C207.68,359.48 207.37,360.48 207,362.5 C206.63,364.52 206.13,367.08 205.3,369.1 C204.47,371.12 203.1,372.77 202,374.6 C200.9,376.43 199.8,378.45 198.7,380.1 C197.6,381.75 196.68,382.85 195.4,384.5 C194.12,386.15 192.47,388.35 191,390 C189.53,391.65 187.7,393.12 186.6,394.4 C185.5,395.68 185.03,396.23 184.4,397.7 C183.77,399.17 183.53,401.55 182.8,403.2 C182.07,404.85 181.2,406.32 180,407.6 C178.8,408.88 176.83,409.73 175.6,410.9 C174.37,412.07 173.47,413.43 172.6,414.6 C171.73,415.77 171.22,417.25 170.4,417.9 C169.58,418.55 168.8,418.68 167.7,418.5 C166.6,418.32 165.18,417.63 163.8,416.8 C162.42,415.97 160.87,414.6 159.4,413.5 C157.93,412.4 156.37,411.3 155,410.2 C153.63,409.1 151.75,405.43 151.2,406.9 C150.65,408.37 151.7,415.15 151.7,419 C151.7,422.85 151.57,427.43 151.2,430 C150.83,432.57 150.15,433.48 149.5,434.4 C148.85,435.32 148.22,435.68 147.3,435.5 C146.38,435.32 145,433.95 144,433.3 C143,432.65 142.48,433.17 141.3,431.6 C140.12,430.03 137.9,426.83 136.9,423.9 C135.9,420.97 135.47,417.32 135.3,414 C135.13,410.68 135.53,407.17 135.9,404 C136.27,400.83 137.03,397.62 137.5,395 C137.97,392.38 138.9,387.97 138.7,388.3 C138.5,388.63 137.05,394.18 136.3,397 C135.55,399.82 135.02,402.55 134.2,405.2 C133.38,407.85 132.42,410.52 131.4,412.9 C130.38,415.28 129.1,417.93 128.1,419.5 C127.1,421.07 126.13,422.12 125.4,422.3 C124.67,422.48 124.07,421.62 123.7,420.6 C123.33,419.58 123.57,417.3 123.2,416.2 C122.83,415.1 122.33,414.27 121.5,414 C120.67,413.73 119.38,414.42 118.2,414.6 C117.02,414.78 115.13,415.38 114.4,415.1 C113.67,414.82 113.53,414.18 113.8,412.9 C114.07,411.62 114.9,409.23 116,407.4 C117.1,405.57 118.57,403.92 120.4,401.9 C122.23,399.88 124.92,397.22 127,395.3 C129.08,393.38 133.27,390.67 132.9,390.4 C132.53,390.13 127.25,392.7 124.8,393.7 C122.35,394.7 120.58,395.67 118.2,396.4 C115.82,397.13 112.68,397.88 110.5,398.1 C108.32,398.32 106.73,398.13 105.1,397.7 C103.47,397.27 102.17,396.42 100.7,395.5 C99.23,394.58 97.77,393.3 96.3,392.2 C94.83,391.1 93.18,390 91.9,388.9 C90.62,387.8 89.15,386.15 88.6,385.6" class="red"/>
<path d="M137.8,386.5 C137.42,385.58 136.05,382.67 135.5,381 C134.95,379.33 135,378.48 134.5,376.5 C134,374.52 132.7,370.62 132.5,369.1 C132.3,367.58 133.03,367.6 133.3,367.4 C133.57,367.2 133.55,366.8 134.1,367.9 C134.65,369 135.85,371.48 136.6,374 C137.35,376.52 138.27,381.5 138.6,383" class="mag"/>
<path d="M140,386 C140.05,385.08 139.85,382.77 140.3,380.5 C140.75,378.23 141.82,374.55 142.7,372.4 C143.58,370.25 145.05,367.88 145.6,367.6 C146.15,367.32 146.2,369.08 146,370.7 C145.8,372.32 145.22,375.12 144.4,377.3 C143.58,379.48 141.65,382.72 141.1,383.8" class="mag"/>
<path d="M129.6,382.2 C130.17,382.08 131.27,381.53 133,381.5 C134.73,381.47 137.67,382.08 140,382 C142.33,381.92 145.18,380.97 147,381 C148.82,381.03 150.73,381.62 150.9,382.2 C151.07,382.78 149.82,383.87 148,384.5 C146.18,385.13 142.17,385.7 140,386 C137.83,386.3 136.5,386.47 135,386.3 C133.5,386.13 131.9,385.68 131,385 C130.1,384.32 129.83,382.67 129.6,382.2" class="mag"/>
<path d="M138.2,386 L138.2,389" class="mag"/>
<path d="M85.3,384 C84.93,383.17 83.73,380.75 83.1,379 C82.47,377.25 81.95,375.52 81.5,373.5 C81.05,371.48 80.77,368.92 80.4,366.9 C80.03,364.88 79.62,363.05 79.3,361.4 C78.98,359.75 78.5,358.75 78.5,357 C78.5,355.25 78.9,352.65 79.3,350.9 C79.7,349.15 80.27,347.97 80.9,346.5 C81.53,345.03 82.18,343.75 83.1,342.1 C84.02,340.45 85.3,338.25 86.4,336.6 C87.5,334.95 88.23,333.57 89.7,332.2 C91.17,330.83 93.37,329.22 95.2,328.4 C97.03,327.58 98.87,327.3 100.7,327.3 C102.53,327.3 104.82,328.03 106.2,328.4 C107.58,328.77 107.62,328.85 109,329.5 C110.38,330.15 112.67,330.92 114.5,332.3 C116.33,333.68 118.72,336.52 120,337.8 C121.28,339.08 121.28,340.27 122.2,340 C123.12,339.73 124.48,337.3 125.5,336.2 C126.52,335.1 127.02,334.42 128.3,333.4 C129.58,332.38 131.65,331.38 133.2,330.1 C134.75,328.82 136.13,326.98 137.6,325.7 C139.07,324.42 140.72,322.95 142,322.4 C143.28,321.85 144.02,322.03 145.3,322.4 C146.58,322.77 148.5,323.5 149.7,324.6 C150.9,325.7 151.77,327.35 152.5,329 C153.23,330.65 153.65,332.75 154.1,334.5 C154.55,336.25 154.47,338.77 155.2,339.5 C155.93,340.23 157.22,339.45 158.5,338.9 C159.78,338.35 161.42,337.2 162.9,336.2 C164.38,335.2 166.38,333.55 167.4,332.9 C168.42,332.25 167.63,332.97 169,332.3 C170.37,331.63 173.22,329.55 175.6,328.9 C177.98,328.25 180.92,328.12 183.3,328.4 C185.68,328.68 187.88,329.68 189.9,330.6 C191.92,331.52 193.75,332.62 195.4,333.9 C197.05,335.18 198.52,336.75 199.8,338.3 C201.08,339.85 202.27,341.47 203.1,343.2 C203.93,344.93 204.43,346.67 204.8,348.7 C205.17,350.73 205.3,353.73 205.3,355.4 C205.3,357.07 204.98,357.33 204.8,358.7 C204.62,360.07 204.57,361.68 204.2,363.6 C203.83,365.52 203.15,368 202.6,370.2 C202.05,372.4 201.45,374.6 200.9,376.8 C200.35,379 199.75,381.75 199.3,383.4 C198.85,385.05 198.38,386.15 198.2,386.7" class="blue"/>
<path d="M137.8,380.5 C137.6,379.97 136.93,378.38 136.6,377.3 C136.27,376.22 136.02,375.05 135.8,374 C135.58,372.95 135.45,372.08 135.3,371 C135.15,369.92 134.92,368.63 134.9,367.5 C134.88,366.37 134.92,365.3 135.2,364.2 C135.48,363.1 136.1,361.32 136.6,360.9 C137.1,360.48 137.87,360.88 138.2,361.7 C138.53,362.52 138.47,364.57 138.6,365.8 C138.73,367.03 138.9,368 139,369.1 C139.1,370.2 139.12,371.32 139.2,372.4 C139.28,373.48 139.47,374.5 139.5,375.6 C139.53,376.7 139.42,378.43 139.4,379" class="cy"/>
<path d="M142,385 C142.93,384.93 145.98,384.8 147.6,384.6 C149.22,384.4 150.47,384.07 151.7,383.8 C152.93,383.53 153.83,383.55 155,383 C156.17,382.45 158.57,381.32 158.7,380.5 C158.83,379.68 156.97,378.37 155.8,378.1 C154.63,377.83 153,379.17 151.7,378.9 C150.4,378.63 149.08,377.12 148,376.5 C146.92,375.88 145.95,375.35 145.2,375.2 C144.45,375.05 143.78,375.53 143.5,375.6" class="cy"/>
<path d="M128,378.1 C128.55,378.37 130.38,379.05 131.3,379.7 C132.22,380.35 133.72,381.45 133.5,382 C133.28,382.55 130.08,382.58 130,383 C129.92,383.42 132.5,384.25 133,384.5" class="cy"/>
<path d="M135,383.5 C135.5,383.67 137,384.5 138,384.5 C139,384.5 140,383.5 141,383.5 C142,383.5 143.5,384.33 144,384.5" class="cy"/>
</g>
<line x1="53.3" y1="228.4" x2="69.9" y2="228.4" class="lr"/>
<line x1="54.1" y1="241.5" x2="70.5" y2="241.5" class="lm"/>
<line x1="158.8" y1="227.2" x2="171.9" y2="227.2" class="lb"/>
<rect x="159.95" y="239.45" width="2.1" height="2.1" class="lc"/>
<rect x="163.78" y="239.45" width="2.1" height="2.1" class="lc"/>
<rect x="167.61" y="239.45" width="2.1" height="2.1" class="lc"/>
<rect x="171.44" y="239.45" width="2.1" height="2.1" class="lc"/>
<text x="76.6" y="231.9" textLength="57.91" lengthAdjust="spacingAndGlyphs">Sim.co-polar</text>
<text x="76.6" y="245.9" textLength="52.96" lengthAdjust="spacingAndGlyphs">Sim.x-polar</text>
<text x="179.6" y="232.1" textLength="59.75" lengthAdjust="spacingAndGlyphs">Mea.co-polar</text>
<text x="179.4" y="245.3" textLength="54.80" lengthAdjust="spacingAndGlyphs">Mea.x-polar</text>
<line x1="334.4" y1="228.4" x2="351.3" y2="228.4" class="lr"/>
<line x1="335.5" y1="241.5" x2="351.8" y2="241.5" class="lm"/>
<line x1="440.3" y1="227.3" x2="453.4" y2="227.3" class="lb"/>
<rect x="441.45" y="239.35" width="2.1" height="2.1" class="lc"/>
<rect x="445.28" y="239.35" width="2.1" height="2.1" class="lc"/>
<rect x="449.11" y="239.35" width="2.1" height="2.1" class="lc"/>
<rect x="452.94" y="239.35" width="2.1" height="2.1" class="lc"/>
<text x="357.6" y="231.9" textLength="57.91" lengthAdjust="spacingAndGlyphs">Sim.co-polar</text>
<text x="356" y="245.5" textLength="52.96" lengthAdjust="spacingAndGlyphs">Sim.x-polar</text>
<text x="461.6" y="232.1" textLength="59.75" lengthAdjust="spacingAndGlyphs">Mea.co-polar</text>
<text x="460" y="244.7" textLength="54.80" lengthAdjust="spacingAndGlyphs">Mea.x-polar</text>
<line x1="53.3" y1="496.9" x2="70.2" y2="496.9" class="lr"/>
<line x1="54.4" y1="507.8" x2="70.7" y2="507.8" class="lm"/>
<line x1="159.4" y1="495.8" x2="172.5" y2="495.8" class="lb"/>
<rect x="160.35" y="505.15" width="2.1" height="2.1" class="lc"/>
<rect x="164.18" y="505.15" width="2.1" height="2.1" class="lc"/>
<rect x="168.01" y="505.15" width="2.1" height="2.1" class="lc"/>
<rect x="171.84" y="505.15" width="2.1" height="2.1" class="lc"/>
<text x="76.4" y="500.7" textLength="57.91" lengthAdjust="spacingAndGlyphs">Sim.co-polar</text>
<text x="76.4" y="513.1" textLength="52.96" lengthAdjust="spacingAndGlyphs">Sim.x-polar</text>
<text x="178.4" y="500.4" textLength="59.75" lengthAdjust="spacingAndGlyphs">Mea.co-polar</text>
<text x="178.4" y="510.8" textLength="54.80" lengthAdjust="spacingAndGlyphs">Mea.x-polar</text>
<text x="224.6" y="25.7" textLength="34.67" lengthAdjust="spacingAndGlyphs">E-plane</text>
<text x="506.8" y="25.6" textLength="35.91" lengthAdjust="spacingAndGlyphs">H-plane</text>
<text x="220.8" y="293.4" textLength="34.67" lengthAdjust="spacingAndGlyphs">E-plane</text>
<text class="cap" x="137.8" y="269.9" text-anchor="middle">(<tspan font-weight="bold">a</tspan>)</text>
<text class="cap" x="419.7" y="269.9" text-anchor="middle">(<tspan font-weight="bold">b</tspan>)</text>
<text class="cap" x="137.8" y="536.1" text-anchor="middle">(<tspan font-weight="bold">c</tspan>)</text>
</svg></div>
</body></html>
